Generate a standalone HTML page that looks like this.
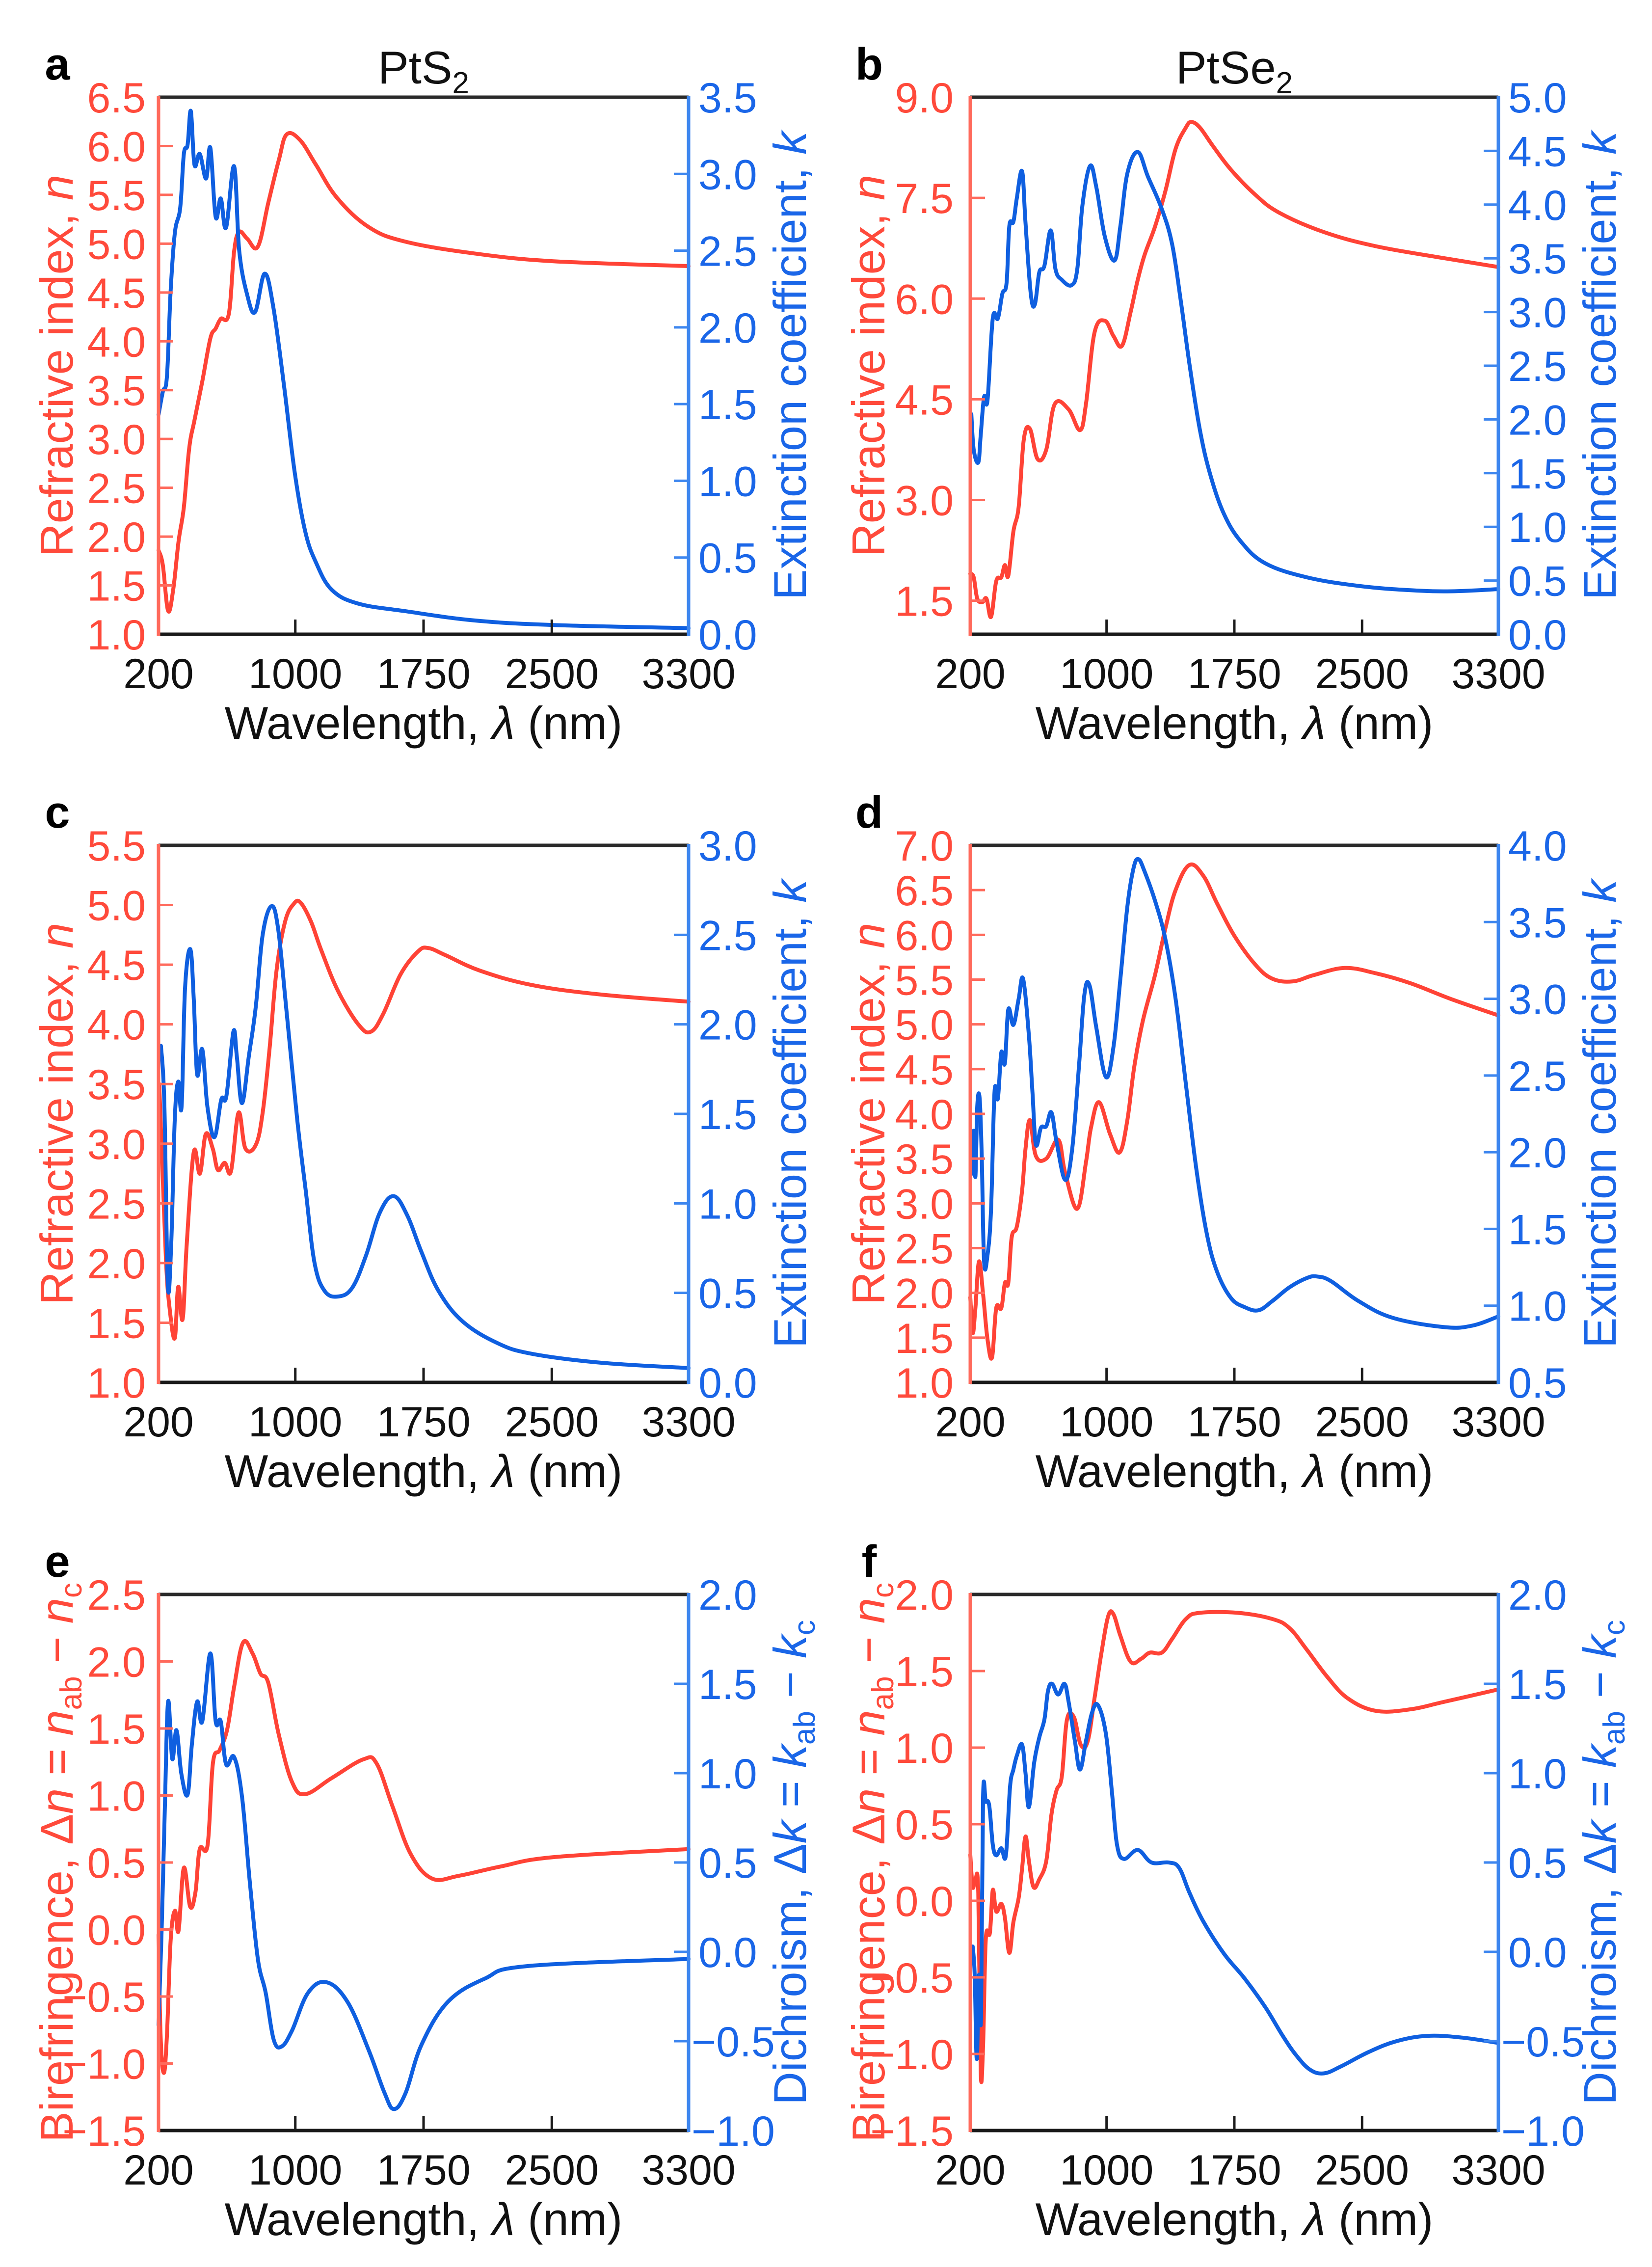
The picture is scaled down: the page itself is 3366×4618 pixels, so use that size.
<!DOCTYPE html>
<html><head><meta charset="utf-8"><title>PtS2 / PtSe2 optical constants</title>
<style>
html,body{margin:0;padding:0;background:#fff;}
svg{display:block;}
text{font-family:"Liberation Sans",Arial,sans-serif;}
</style></head>
<body>
<svg id="fig" xmlns="http://www.w3.org/2000/svg" width="3366" height="4618" viewBox="0 0 3366 4618"></svg>
<script>
// ---------- data ----------
const xTicks = [200, 1000, 1750, 2500, 3300];

// Panel a: PtS2
const aLamN = [200,225,256,286,317,348,379,410,456,503,534,564,611,642,672,719,781,842,904,950,1028,1120,1244,1429,1645,2047,2510,3300];
const aN    = [1.86,1.71,1.24,1.46,1.95,2.3,2.9,3.19,3.59,4.03,4.13,4.23,4.28,4.92,5.12,5.05,4.97,5.42,5.86,6.12,6.06,5.81,5.47,5.17,5.02,4.90,4.82,4.77];
const aLamK = [200,225,249,271,296,327,348,370,389,410,441,478,503,534,564,595,642,672,719,765,821,873,935,997,1058,1120,1213,1367,1645,2047,2510,3300];
const aK    = [1.43,1.58,1.68,2.24,2.62,2.78,3.13,3.19,3.41,3.06,3.13,2.97,3.17,2.72,2.84,2.65,3.05,2.50,2.21,2.10,2.35,2.12,1.61,1.05,0.67,0.47,0.29,0.20,0.15,0.09,0.06,0.04];

// Panel b: PtSe2
const bLamN = [200,220,241,271,295,322,352,382,403,423,453,484,514,550,595,646,696,777,844,879,929,990,1041,1091,1142,1183,1223,1284,1345,1405,1466,1497,1547,1628,1730,1872,2013,2277,2581,2986,3300];
const bN    = [1.90,1.85,1.53,1.48,1.53,1.26,1.79,1.85,2.03,1.87,2.53,2.90,3.90,4.06,3.61,3.75,4.43,4.35,4.04,4.43,5.49,5.67,5.44,5.30,5.81,6.28,6.65,7.07,7.60,8.23,8.55,8.63,8.55,8.26,7.92,7.55,7.28,6.99,6.78,6.60,6.47];
const bLamK = [206,220,247,261,281,301,332,362,388,413,429,453,473,504,524,555,579,605,635,672,700,737,794,828,858,903,940,990,1047,1081,1122,1183,1243,1324,1385,1436,1487,1547,1608,1689,1790,1932,2175,2479,2783,3026,3300];
const bK    = [2.05,1.72,1.60,1.85,2.21,2.18,2.94,2.94,3.17,3.27,3.80,3.84,4.06,4.31,3.83,3.17,3.07,3.37,3.43,3.76,3.40,3.30,3.25,3.40,3.99,4.36,4.16,3.70,3.48,3.80,4.29,4.49,4.26,3.96,3.63,3.10,2.51,1.91,1.49,1.12,0.86,0.66,0.53,0.45,0.41,0.40,0.42];

// Panel c: PtS2
const cLamN = [204,220,244,265,295,315,341,365,406,442,476,517,547,587,624,668,708,769,809,849,890,940,991,1031,1092,1152,1253,1374,1444,1515,1616,1717,1777,1878,2080,2382,2786,3300];
const cN    = [3.50,2.90,2.01,1.62,1.37,1.80,1.53,2.16,2.93,2.75,3.08,2.96,2.78,2.84,2.77,3.26,2.96,2.99,3.26,3.79,4.45,4.86,5.01,5.02,4.86,4.62,4.27,3.99,3.94,4.09,4.42,4.61,4.64,4.58,4.45,4.33,4.25,4.19];
const cLamK = [214,234,254,274,295,315,335,355,386,406,426,456,486,527,567,597,638,658,688,728,769,809,860,900,950,1011,1061,1112,1172,1253,1334,1414,1495,1576,1656,1737,1838,1979,2181,2382,2786,3300];
const cK    = [1.88,1.56,0.55,0.77,1.47,1.68,1.54,2.20,2.42,2.14,1.72,1.86,1.54,1.37,1.58,1.60,1.96,1.82,1.56,1.82,2.10,2.50,2.66,2.53,2.06,1.47,1.07,0.67,0.51,0.48,0.53,0.71,0.95,1.04,0.93,0.73,0.51,0.34,0.22,0.16,0.11,0.08];

// Panel d: PtSe2
const dLamN = [200,214,230,251,275,301,328,352,382,403,423,443,473,504,524,550,585,646,717,757,828,879,909,956,1021,1077,1122,1162,1213,1284,1345,1405,1486,1568,1649,1750,1872,1973,2094,2216,2398,2581,2783,3026,3300];
const dN    = [1.95,1.55,1.83,2.35,1.99,1.48,1.28,1.83,1.83,2.11,2.11,2.62,2.74,3.14,3.61,3.93,3.53,3.50,3.71,3.34,2.94,3.46,3.85,4.13,3.77,3.57,3.93,4.52,5.04,5.55,6.07,6.50,6.78,6.66,6.35,5.99,5.67,5.51,5.48,5.55,5.63,5.57,5.46,5.28,5.10];
const dLamK = [210,220,230,241,255,267,281,301,322,342,362,382,403,423,453,484,510,544,565,585,615,646,676,706,757,798,838,869,899,940,996,1041,1081,1122,1158,1187,1223,1284,1345,1405,1466,1527,1588,1649,1730,1811,1892,1973,2074,2175,2236,2317,2479,2682,2986,3148,3300];
const dK    = [1.86,2.14,1.84,2.30,2.35,1.98,1.29,1.33,1.63,2.39,2.35,2.65,2.58,2.93,2.83,3.00,3.13,2.76,2.39,2.05,2.16,2.17,2.26,2.07,1.82,2.02,2.56,3.02,3.09,2.81,2.49,2.69,3.13,3.60,3.85,3.91,3.83,3.64,3.39,3.00,2.44,1.89,1.47,1.22,1.05,0.99,0.97,1.03,1.12,1.18,1.19,1.16,1.03,0.92,0.86,0.87,0.93];

// Panel e: PtS2 birefringence / dichroism
const eLamN = [200,212,231,249,271,296,317,348,385,416,441,487,518,558,601,642,694,750,796,842,904,981,1058,1213,1398,1475,1568,1676,1800,1954,2201,2510,3300];
const eN    = [-0.04,-0.79,-1.07,-0.79,-0.08,0.14,-0.01,0.46,0.17,0.28,0.60,0.63,1.24,1.34,1.49,1.81,2.14,2.06,1.91,1.84,1.45,1.10,1.01,1.13,1.27,1.24,0.92,0.56,0.38,0.40,0.47,0.54,0.60];
const eLamK = [200,219,237,256,280,305,333,370,395,426,456,503,534,564,595,642,688,734,781,827,873,920,981,1074,1182,1305,1429,1522,1577,1645,1738,1892,2108,2355,3300];
const eK    = [-0.41,0.15,0.81,1.40,1.08,1.24,1.00,0.88,1.16,1.40,1.29,1.67,1.29,1.29,1.05,1.09,0.87,0.39,-0.04,-0.23,-0.49,-0.53,-0.44,-0.23,-0.17,-0.28,-0.55,-0.79,-0.88,-0.79,-0.52,-0.28,-0.15,-0.08,-0.04];

// Panel f: PtSe2 birefringence / dichroism
const fLamN = [200,214,230,247,261,275,291,315,332,352,382,403,429,453,484,504,524,544,571,605,646,676,706,737,767,808,848,889,929,970,1010,1041,1081,1142,1203,1253,1324,1385,1466,1547,1770,1973,2074,2175,2297,2418,2581,2783,2986,3300];
const fN    = [0.30,0.09,0.14,0.05,-1.11,-0.95,-0.25,-0.21,0.07,-0.07,-0.02,-0.11,-0.34,-0.14,0.02,0.21,0.42,0.26,0.09,0.14,0.26,0.56,0.72,0.81,1.18,1.20,1.02,1.04,1.32,1.62,1.86,1.87,1.73,1.56,1.58,1.62,1.62,1.71,1.84,1.88,1.88,1.84,1.78,1.64,1.46,1.32,1.24,1.25,1.30,1.38];
const fLamK = [214,226,238,251,263,275,291,311,332,352,382,409,433,453,474,504,524,544,575,605,635,656,680,716,753,777,814,844,879,915,950,996,1031,1061,1102,1183,1264,1365,1426,1487,1568,1689,1811,1932,2034,2114,2195,2277,2378,2540,2702,2884,3087,3300];
const fK    = [0.03,-0.13,-0.60,-0.13,-0.37,0.86,0.84,0.82,0.60,0.54,0.58,0.54,0.92,1.02,1.10,1.16,1.00,0.81,1.06,1.20,1.30,1.46,1.50,1.44,1.50,1.40,1.18,1.02,1.18,1.34,1.38,1.22,0.90,0.60,0.52,0.57,0.50,0.50,0.47,0.33,0.17,-0.01,-0.15,-0.31,-0.47,-0.58,-0.66,-0.68,-0.64,-0.56,-0.50,-0.47,-0.48,-0.51];

// ---------- layout ----------
const NS = "http://www.w3.org/2000/svg";
const svg = document.getElementById('fig');
const RED_AX = "#ff6a5c", BLUE_AX = "#3d86ef", RED_LN = "#ff4336", BLUE_LN = "#0f5fe0";
const RED_TX = "#ff4a3b", BLUE_TX = "#1a66e8";
const FS = 86, TFS = 94;

const panels = [
  {id:'a', x0:323, x1:1403, y0:198, y1:1292, nMin:1, nMax:6.5, nStep:0.5, nStart:1, kMin:0, kMax:3.5, kStep:0.5, kStart:0,
   lamN:aLamN, n:aN, lamK:aLamK, k:aK, left:'n', title:['PtS','2']},
  {id:'b', x0:1977, x1:3053, y0:198, y1:1292, nMin:1, nMax:9, nStep:1.5, nStart:1.5, kMin:0, kMax:5, kStep:0.5, kStart:0,
   lamN:bLamN, n:bN, lamK:bLamK, k:bK, left:'n', title:['PtSe','2']},
  {id:'c', x0:323, x1:1403, y0:1722, y1:2816, nMin:1, nMax:5.5, nStep:0.5, nStart:1, kMin:0, kMax:3, kStep:0.5, kStart:0,
   lamN:cLamN, n:cN, lamK:cLamK, k:cK, left:'n'},
  {id:'d', x0:1977, x1:3053, y0:1722, y1:2816, nMin:1, nMax:7, nStep:0.5, nStart:1, kMin:0.5, kMax:4, kStep:0.5, kStart:0.5,
   lamN:dLamN, n:dN, lamK:dLamK, k:dK, left:'n'},
  {id:'e', x0:323, x1:1403, y0:3248, y1:4340, nMin:-1.5, nMax:2.5, nStep:0.5, nStart:-1.5, kMin:-1, kMax:2, kStep:0.5, kStart:-1,
   lamN:eLamN, n:eN, lamK:eLamK, k:eK, left:'dn'},
  {id:'f', x0:1977, x1:3053, y0:3248, y1:4340, nMin:-1.5, nMax:2, nStep:0.5, nStart:-1.5, kMin:-1, kMax:2, kStep:0.5, kStart:-1,
   lamN:fLamN, n:fN, lamK:fLamK, k:fK, left:'dn'}
];

function el(tag, attrs, parent){
  const e = document.createElementNS(NS, tag);
  for (const k in attrs) e.setAttribute(k, attrs[k]);
  (parent||svg).appendChild(e);
  return e;
}
function fmt(v){ const s = Math.abs(v).toFixed(1); return (v < -1e-9 ? '\u2212' : '') + s; }
// smooth path (Catmull-Rom -> Bezier)
function smooth(pts){
  let d = 'M' + pts[0][0].toFixed(1) + ',' + pts[0][1].toFixed(1);
  const t = 0.18;
  for (let i = 0; i < pts.length - 1; i++) {
    const p0 = pts[Math.max(0, i-1)], p1 = pts[i], p2 = pts[i+1], p3 = pts[Math.min(pts.length-1, i+2)];
    const c1x = p1[0] + (p2[0]-p0[0])*t, c1y = p1[1] + (p2[1]-p0[1])*t;
    const c2x = p2[0] - (p3[0]-p1[0])*t, c2y = p2[1] - (p3[1]-p1[1])*t;
    d += ' C' + c1x.toFixed(1)+','+c1y.toFixed(1)+' '+c2x.toFixed(1)+','+c2y.toFixed(1)+' '+p2[0].toFixed(1)+','+p2[1].toFixed(1);
  }
  return d;
}

panels.forEach(p => {
  const g = el('g', {});
  
  
  const xs = v => p.x0 + (v - 200) / 3100 * (p.x1 - p.x0);
  const ys = v => p.y1 - (v - p.nMin) / (p.nMax - p.nMin) * (p.y1 - p.y0);
  const yk = v => p.y1 - (v - p.kMin) / (p.kMax - p.kMin) * (p.y1 - p.y0);
  const colL = p.x0 < 1000;

  const dn = smooth(p.lamN.map((l,i)=>[xs(l), ys(p.n[i])]));
  const ln = el('path', {d:dn, fill:'none', stroke:RED_LN, 'stroke-width':8, 'stroke-linejoin':'round', 'stroke-linecap':'round'}, g);
  
  
  const dk = smooth(p.lamK.map((l,i)=>[xs(l), yk(p.k[i])]));
  const lk = el('path', {d:dk, fill:'none', stroke:BLUE_LN, 'stroke-width':8, 'stroke-linejoin':'round', 'stroke-linecap':'round'}, g);
  
  

  const top = el('line', {x1:p.x0, y1:p.y0, x2:p.x1, y2:p.y0, stroke:'#2a2a2a', 'stroke-width':7}, g);
  
  
  const bot = el('line', {x1:p.x0, y1:p.y1, x2:p.x1, y2:p.y1, stroke:'#1a1a1a', 'stroke-width':7}, g);
  
  
  const la = el('line', {x1:p.x0, y1:p.y0-3, x2:p.x0, y2:p.y1+3, stroke:RED_AX, 'stroke-width':7}, g);
  
  
  const ra = el('line', {x1:p.x1, y1:p.y0-3, x2:p.x1, y2:p.y1+3, stroke:BLUE_AX, 'stroke-width':7}, g);
  
  

  xTicks.forEach(t => {
    const x = xs(t);
    if (t !== 200 && t !== 3300) {
      const tk = el('line', {x1:x, y1:p.y1, x2:x, y2:p.y1-30, stroke:'#1a1a1a', 'stroke-width':5}, g);
      
      
    }
    const tx = el('text', {x:x, y:p.y1+110, 'font-size':FS, 'text-anchor':'middle', fill:'#111'}, g);
    tx.textContent = String(t);
    
    
  });
  const xt = el('text', {x:(p.x0+p.x1)/2, y:p.y1+213, 'font-size':TFS, 'text-anchor':'middle', fill:'#111'}, g);
  xt.innerHTML = 'Wavelength, <tspan font-style="italic">\u03bb</tspan> (nm)';
  
  

  const nSteps = Math.round((p.nMax - p.nStart) / p.nStep);
  for (let i = 0; i <= nSteps; i++) {
    const v = p.nStart + i * p.nStep, y = ys(v);
    if (Math.abs(v - p.nMin) > 1e-6 && Math.abs(v - p.nMax) > 1e-6) {
      const tk = el('line', {x1:p.x0, y1:y, x2:p.x0+30, y2:y, stroke:RED_AX, 'stroke-width':5}, g);
      
      
    }
    const tx = el('text', {x:colL ? p.x0-26 : p.x0-34, y:y+31, 'font-size':FS, 'text-anchor':'end', fill:RED_TX}, g);
    tx.textContent = fmt(v);
    
    
  }
  const kSteps = Math.round((p.kMax - p.kStart) / p.kStep);
  for (let i = 0; i <= kSteps; i++) {
    const v = p.kStart + i * p.kStep, y = yk(v);
    if (Math.abs(v - p.kMin) > 1e-6 && Math.abs(v - p.kMax) > 1e-6) {
      const tk = el('line', {x1:p.x1, y1:y, x2:p.x1-30, y2:y, stroke:BLUE_AX, 'stroke-width':5}, g);
      
      
    }
    const tx = el('text', {x:p.x1 + (v < -1e-9 ? 6 : 20), y:y+31, 'font-size':FS, 'text-anchor':'start', fill:BLUE_TX}, g);
    tx.textContent = fmt(v);
    
    
  }

  const cy = (p.y0 + p.y1) / 2;
  const lx = colL ? 148 : 1802;
  const rx = colL ? 1642 : 3292;
  const lt = el('text', {x:lx, y:cy, 'font-size':TFS, 'text-anchor':'middle', fill:RED_TX, transform:`rotate(-90 ${lx} ${cy})`}, g);
  const rt = el('text', {x:rx, y:cy, 'font-size':TFS, 'text-anchor':'middle', fill:BLUE_TX, transform:`rotate(-90 ${rx} ${cy})`}, g);
  if (p.left === 'n') {
    lt.innerHTML = 'Refractive index, <tspan font-style="italic">n</tspan>';
    rt.innerHTML = 'Extinction coefficient, <tspan font-style="italic">k</tspan>';
  } else {
    lt.innerHTML = 'Birefringence, \u0394<tspan font-style="italic">n</tspan> = <tspan font-style="italic">n</tspan><tspan font-size="62" dy="18">ab</tspan><tspan dy="-18"> \u2212 </tspan><tspan font-style="italic">n</tspan><tspan font-size="62" dy="18">c</tspan>';
    rt.innerHTML = 'Dichroism, \u0394<tspan font-style="italic">k</tspan> = <tspan font-style="italic">k</tspan><tspan font-size="62" dy="18">ab</tspan><tspan dy="-18"> \u2212 </tspan><tspan font-style="italic">k</tspan><tspan font-size="62" dy="18">c</tspan>';
  }
  
  
  
  

  const pl = el('text', {x:colL ? 117 : 1771, y:p.y0-36, 'font-size':92, 'font-weight':'bold', 'text-anchor':'middle', fill:'#000'}, g);
  pl.textContent = p.id;
  
  

  if (p.title) {
    const tt = el('text', {x:(p.x0+p.x1)/2, y:p.y0-28, 'font-size':TFS, 'text-anchor':'middle', fill:'#111'}, g);
    tt.innerHTML = p.title[0] + '<tspan font-size="62" dy="20">' + p.title[1] + '</tspan>';
    
    
  }
});
</script>
</body></html>
